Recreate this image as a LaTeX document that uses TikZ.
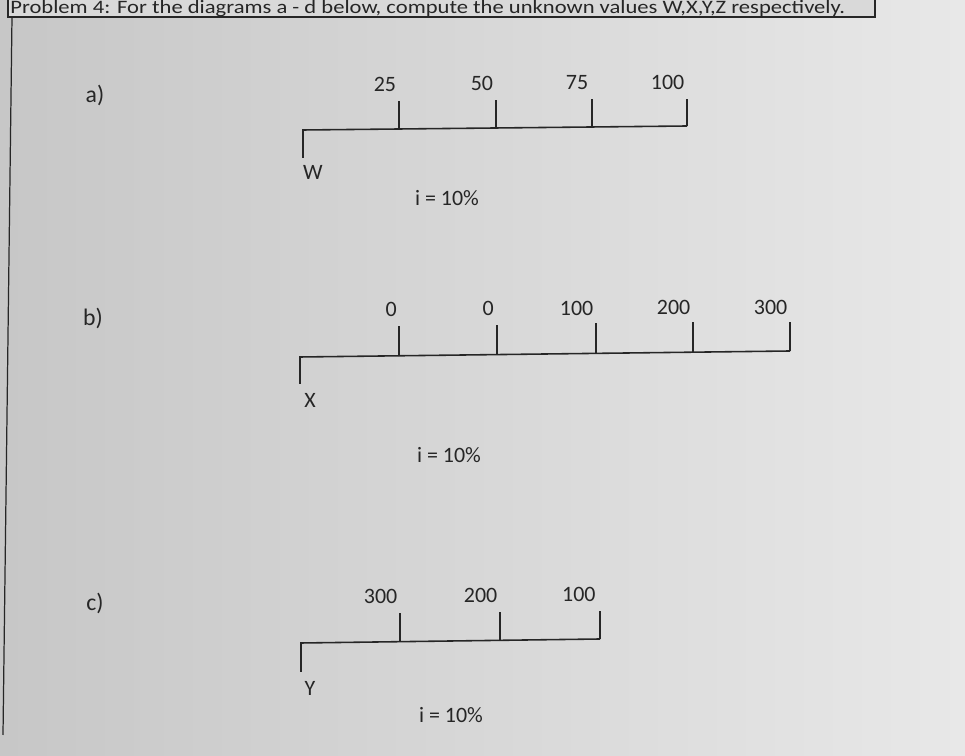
\documentclass[tikz,border=0pt]{standalone}
\usepackage{fontspec}
\setmainfont{Carlito}

\begin{document}
\begin{tikzpicture}[
		x=0.02cm,
		y=-0.02cm,
		every node/.style={font=\fontsize{12.5}{14}\selectfont, text=black!85, inner sep=0pt},
		axis/.style={line width=0.9pt, draw=black!85},
		cash/.style={line width=0.9pt, draw=black!85},
		part/.style={font=\fontsize{13.5}{15}\selectfont}
	]

		% Paper
		\useasboundingbox (0,0) rectangle (965,756);
		\shade[left color=black!22, right color=black!9] (0,0) rectangle (965,756);

		% Title
		\fill[black!15] (8,-2) rectangle (875,17);
		\draw[line width=0.8pt, black!85] (8,-2) -- (8,17) -- (875,17) -- (875,-2);
		\node[anchor=base west, font=\fontsize{10.8}{12}\selectfont] (title) at (10,14)
			{\scalebox{1.19}[1]{Problem 4: For the diagrams a - d below, compute the unknown values W,X,Y,Z respectively.}};
		\coordinate (margintop) at (12,17);
		\coordinate (marginbot) at (3,735);
		\draw[line width=0.7pt, black!85] (margintop) -- (marginbot);

		% a)
		\node[part] (pa) at (95,95) {a)};
		\coordinate (a0) at (303,130);
		\coordinate (a0d) at (303,158);
		\coordinate (a1) at (399,129.5);
		\coordinate (a2) at (496,128.5);
		\coordinate (a3) at (592,127.5);
		\coordinate (a4) at (687,126);
		\draw[axis] (a0d) -- (a0) -- (a4);
		\draw[cash] (a1) -- ++(0,-28) node[above=5pt, xshift=-8pt] (la1) {25};
		\draw[cash] (a2) -- ++(0,-28) node[above=5pt, xshift=-8pt] (la2) {50};
		\draw[cash] (a3) -- ++(0,-28) node[above=5pt, xshift=-8.5pt] (la3) {75};
		\draw[cash] (a4) -- ++(0,-27) node[above=5pt, xshift=-11pt] (la4) {100};
		\node (w) at (313,172) {W};
		\node (ia) at (447,198) {i = 10\%};

		% b)
		\node[part] (pb) at (93,318) {b)};
		\coordinate (b0) at (300,357);
		\coordinate (b0d) at (300,384);
		\coordinate (b1) at (399,356.5);
		\coordinate (b2) at (497,355);
		\coordinate (b3) at (596,354);
		\coordinate (b4) at (693,352.5);
		\coordinate (b5) at (790,351);
		\draw[axis] (b0d) -- (b0) -- (b5);
		\draw[cash] (b1) -- ++(0,-30) node[above=5pt, xshift=-4.5pt] (lb1) {0};
		\draw[cash] (b2) -- ++(0,-30) node[above=5pt, xshift=-5pt] (lb2) {0};
		\draw[cash] (b3) -- ++(0,-31) node[above=4pt, xshift=-11pt] (lb3) {100};
		\draw[cash] (b4) -- ++(0,-30) node[above=4pt, xshift=-11pt] (lb4) {200};
		\draw[cash] (b5) -- ++(0,-29) node[above=4pt, xshift=-11pt] (lb5) {300};
		\node (x) at (310,400) {X};
		\node (ib) at (449,455) {i = 10\%};

		% c)
		\node[part] (pc) at (95,603) {c)};
		\coordinate (c0) at (301,643);
		\coordinate (c0d) at (301,672);
		\coordinate (c1) at (400,642);
		\coordinate (c2) at (500,641);
		\coordinate (c3) at (600,639);
		\draw[axis] (c0d) -- (c0) -- (c3);
		\draw[cash] (c1) -- ++(0,-29) node[above=5pt, xshift=-11pt] (lc1) {300};
		\draw[cash] (c2) -- ++(0,-29) node[above=5pt, xshift=-11pt] (lc2) {200};
		\draw[cash] (c3) -- ++(0,-28) node[above=5pt, xshift=-12pt] (lc3) {100};
		\node (y) at (310,688) {Y};
		\node (ic) at (451,715) {i = 10\%};
	\end{tikzpicture}
\end{document}
